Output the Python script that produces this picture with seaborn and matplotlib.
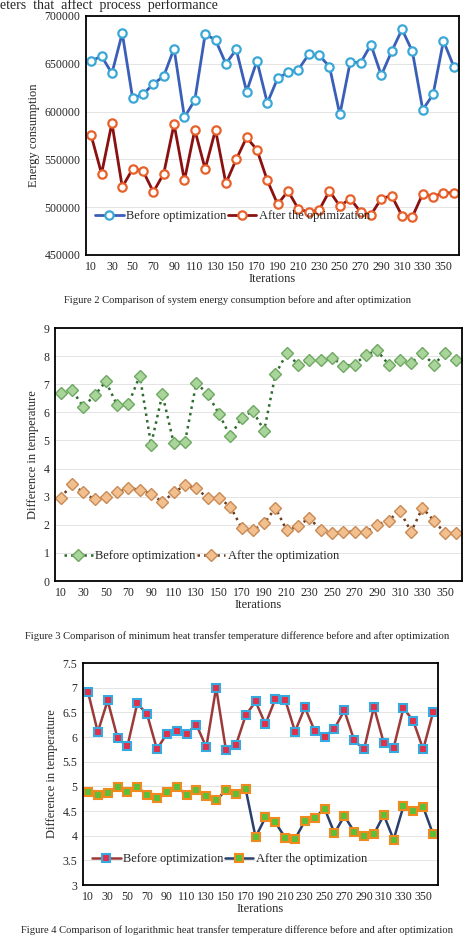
import matplotlib
matplotlib.use("Agg")
import matplotlib.pyplot as plt
import seaborn as sns
import pandas as pd

iters = list(range(10, 361, 10))
e_before = [653,658,640,682,614,618,629,637,666,594,612,681,675,650,665,621,653,609,635,641,644,660,659,647,597,652,651,670,638,663,686,663,602,618,674,647]
e_after = [575,535,588,521,540,538,516,535,587,528,581,540,581,525,550,573,560,528,503,517,498,495,497,517,501,509,495,492,509,512,491,490,514,511,515,515]
e_before = [v*1000 for v in e_before]
e_after = [v*1000 for v in e_after]
m_before = [6.7,6.8,6.2,6.6,7.1,6.25,6.3,7.3,4.85,6.65,4.9,4.95,7.05,6.65,5.95,5.15,5.8,6.05,5.35,7.35,8.1,7.7,7.85,7.85,7.95,7.65,7.7,8.05,8.2,7.7,7.85,7.75,8.1,7.7,8.1,7.85]
m_after = [2.95,3.45,3.15,2.9,3.0,3.15,3.3,3.25,3.1,2.8,3.15,3.4,3.3,2.95,2.95,2.65,1.9,1.8,2.05,2.6,1.8,1.95,2.25,1.8,1.7,1.75,1.75,1.75,2.0,2.15,2.5,1.75,2.6,2.15,1.7,1.7]
l_before = [6.92,6.1,6.74,5.98,5.81,6.68,6.46,5.75,6.07,6.13,6.07,6.25,5.79,7.0,5.73,5.83,6.44,6.72,6.26,6.77,6.76,6.11,6.6,6.12,6.01,6.17,6.54,5.93,5.75,6.61,5.88,5.78,6.59,6.32,5.75,6.5]
l_after = [4.89,4.83,4.86,4.98,4.89,4.98,4.83,4.76,4.88,4.99,4.83,4.92,4.81,4.72,4.92,4.84,4.94,3.97,4.37,4.27,3.96,3.93,4.3,4.36,4.55,4.05,4.4,4.08,3.99,4.03,4.42,3.92,4.6,4.49,4.58,4.03]
xtick_labels = list(range(10, 361, 20))

sns.set_theme(style="white")
plt.rcParams['font.family'] = ['Liberation Serif', 'DejaVu Serif']
FS = 8.5

W, H = 474, 936
fig = plt.figure(figsize=(W/100, H/100), dpi=100)

def ax_at(x0, y0, x1, y1):
    return fig.add_axes([x0/W, 1-y1/H, (x1-x0)/W, (y1-y0)/H])

def style(ax, ylim, yticks, ylabel, yfmt=None):
    ax.set_xlim(5, 365)
    ax.set_ylim(*ylim)
    ax.set_yticks(yticks)
    ax.set_xticks(xtick_labels)
    ax.set_xticklabels([str(v) for v in xtick_labels], fontsize=FS)
    ax.set_yticklabels([yfmt(v) if yfmt else str(v) for v in yticks], fontsize=FS)
    ax.grid(axis='y', color='#e4e4e4', lw=0.7)
    for s in ax.spines.values():
        s.set_color('black'); s.set_linewidth(1.3)
    ax.set_ylabel(ylabel, fontsize=FS+0.5, labelpad=3)
    ax.set_xlabel('Iterations', fontsize=FS+0.5, labelpad=0)
    ax.tick_params(length=0, pad=4)

def leg(ax, y):
    ax.legend(loc='lower left', bbox_to_anchor=(0.0, y), ncol=2, frameon=False, fontsize=FS+0.5,
              handlelength=2.3, columnspacing=0.1, handletextpad=0.2, borderaxespad=0.3)

# Panel 1
ax1 = ax_at(86, 16, 459, 255)
df1 = pd.DataFrame({'it': iters, 'b': e_before, 'a': e_after})
sns.lineplot(data=df1, x='it', y='b', ax=ax1, color='#3a5fb8', lw=2, marker='o', ms=6,
             mfc='white', mec='#3aa7d6', mew=1.6, label='Before optimization')
sns.lineplot(data=df1, x='it', y='a', ax=ax1, color='#8b1010', lw=2, marker='o', ms=6,
             mfc='white', mec='#e8602a', mew=1.6, label='After the optimization')
style(ax1, (450000, 700000), list(range(450000, 700001, 50000)), 'Energy consumption')
leg(ax1, 0.1)

# Panel 2
ax2 = ax_at(55, 328, 462, 581)
df2 = pd.DataFrame({'it': iters, 'b': m_before, 'a': m_after})
sns.lineplot(data=df2, x='it', y='b', ax=ax2, color='#2e6b2e', lw=1.8, ls=':', marker='D', ms=6.5,
             mfc='#a9d59a', mec='#6fa862', mew=1, label='Before optimization')
sns.lineplot(data=df2, x='it', y='a', ax=ax2, color='#6b3d1e', lw=1.8, ls=':', marker='D', ms=6.5,
             mfc='#f1c08e', mec='#c98a55', mew=1, label='After the optimization')
style(ax2, (0, 9), list(range(0, 10)), 'Difference in temperature')
leg(ax2, 0.04)

# Panel 3
ax3 = ax_at(83, 663, 438, 885)
df3 = pd.DataFrame({'it': iters, 'b': l_before, 'a': l_after})
sns.lineplot(data=df3, x='it', y='b', ax=ax3, color='#9c3a3a', lw=1.8, marker='s', ms=6,
             mfc='#e0304a', mec='#36a9e0', mew=1.5, label='Before optimization')
sns.lineplot(data=df3, x='it', y='a', ax=ax3, color='#2a3f6b', lw=1.8, marker='s', ms=6,
             mfc='#5cbf3a', mec='#f08a1e', mew=1.5, label='After the optimization')
style(ax3, (3, 7.5), [3, 3.5, 4, 4.5, 5, 5.5, 6, 6.5, 7, 7.5], 'Difference in temperature',
      yfmt=lambda v: f'{v:g}')
leg(ax3, 0.05)

fig.text(0.0, 1-5/H, 'eters  that  affect  process  performance', fontsize=FS+1.5, va='center', ha='left')
fig.text(0.5, 1-300/H, 'Figure 2 Comparison of system energy consumption before and after optimization',
         fontsize=7.6, ha='center', va='center')
fig.text(0.5, 1-636/H, 'Figure 3 Comparison of minimum heat transfer temperature difference before and after optimization',
         fontsize=7.6, ha='center', va='center')
fig.text(0.5, 1-930/H, 'Figure 4 Comparison of logarithmic heat transfer temperature difference before and after optimization',
         fontsize=7.6, ha='center', va='center')

fig.savefig('out.png', dpi=100)
